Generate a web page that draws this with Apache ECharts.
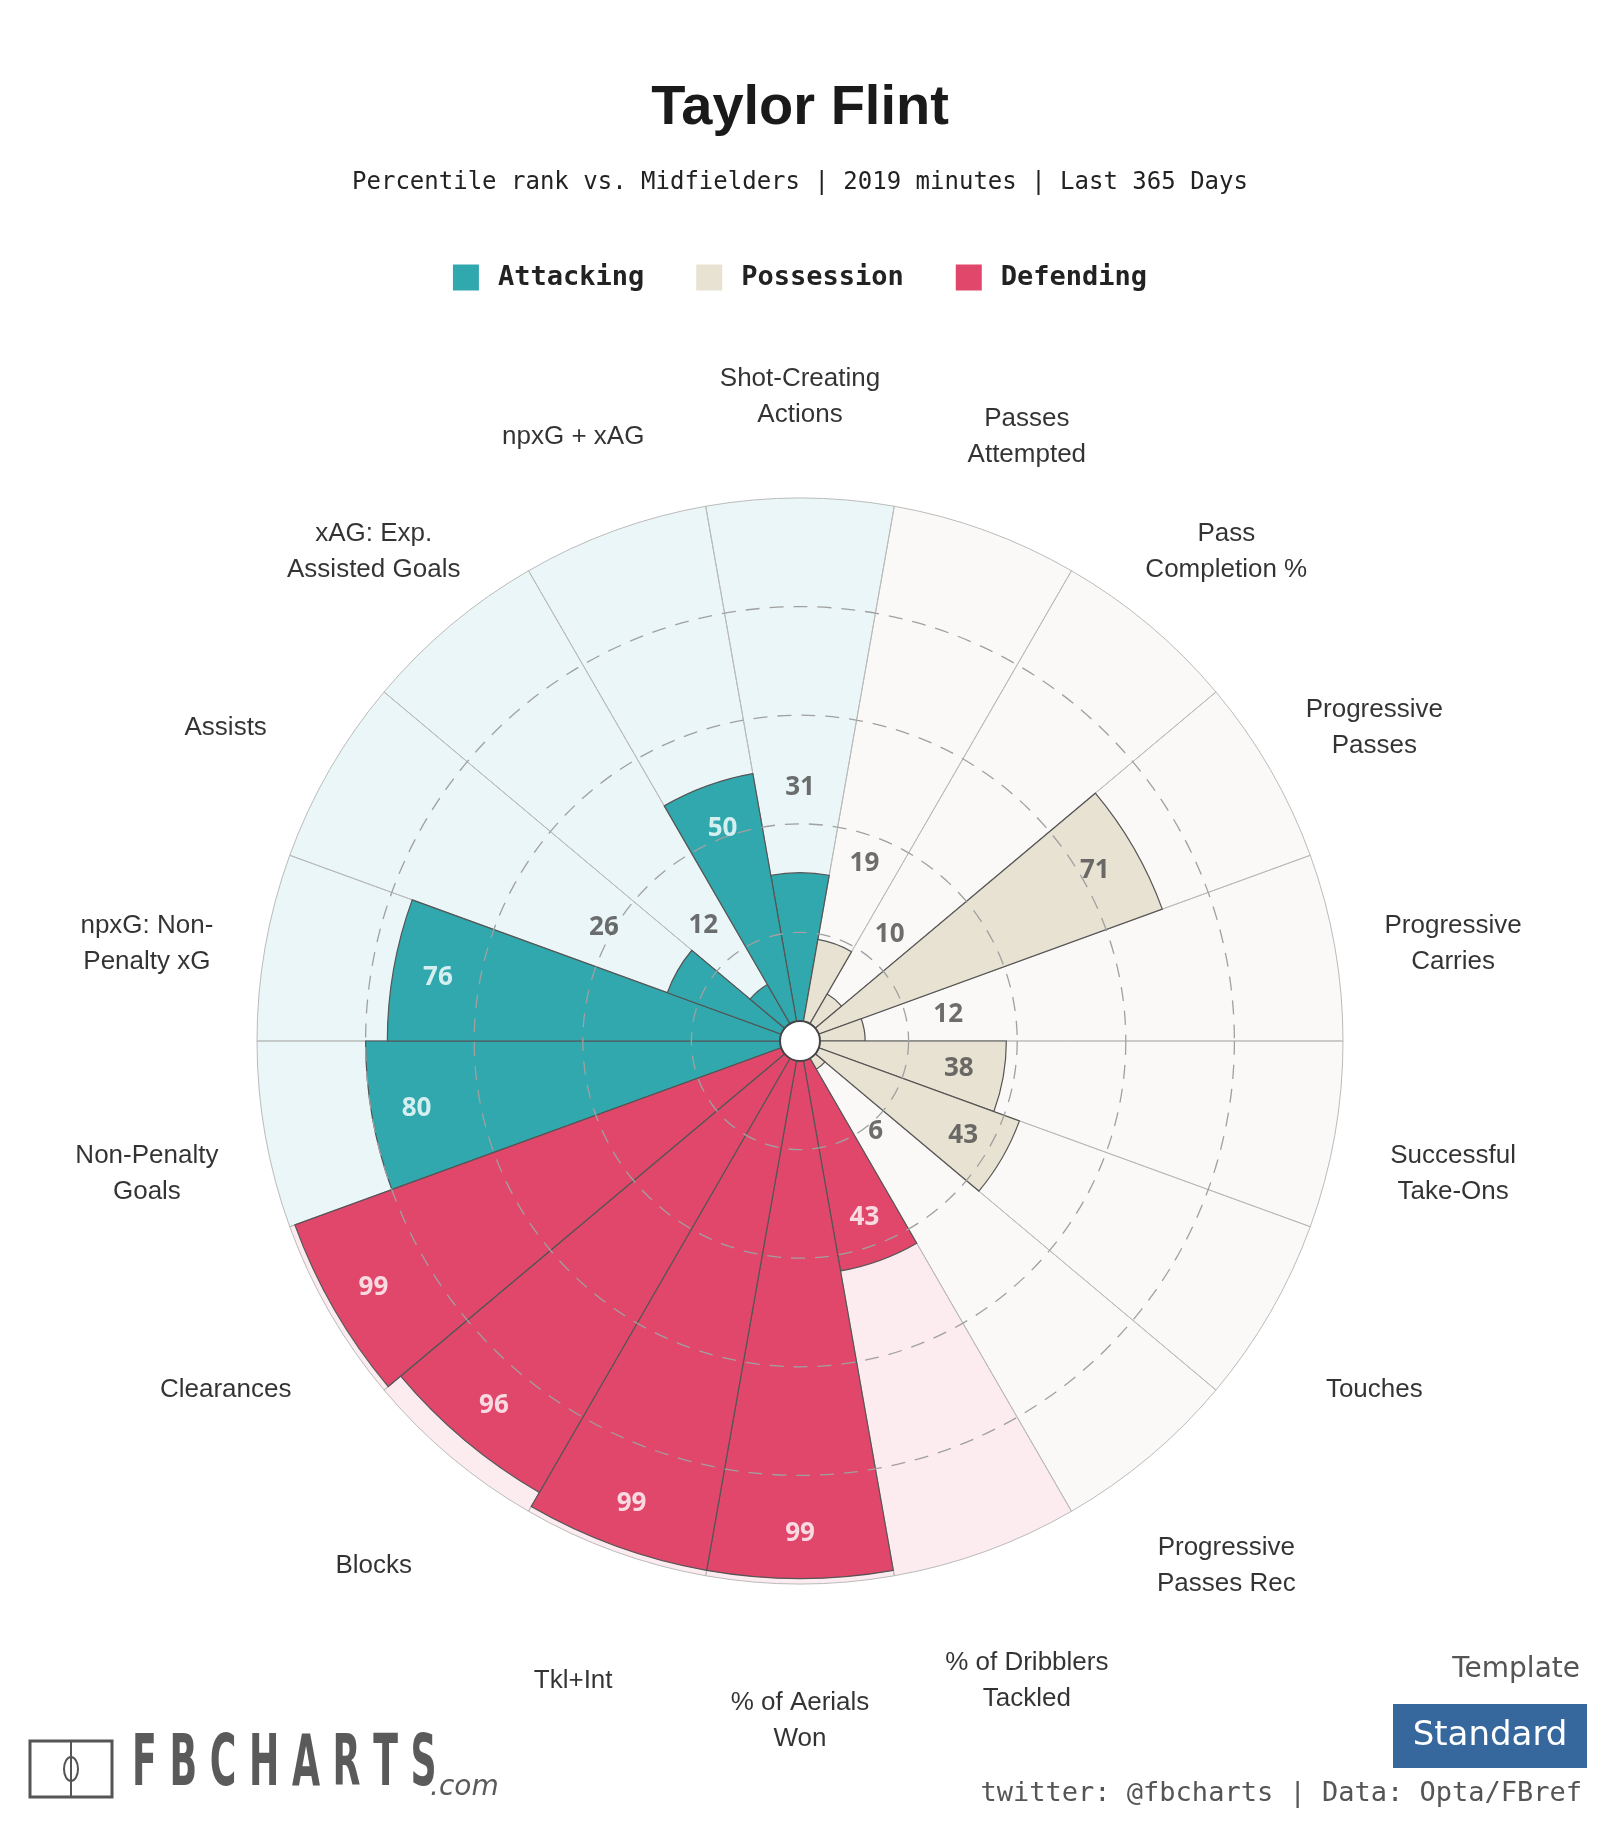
<!DOCTYPE html>
<html>
<head>
<meta charset="utf-8">
<script src="https://cdn.jsdelivr.net/npm/echarts@6/dist/echarts.min.js"></script>
<style>
  html, body { margin: 0; padding: 0; background: #fff; }
  #chart { width: 1600px; height: 1829px; }
</style>
</head>
<body>
<div id="chart"></div>
<script>
// clockwise from the top
var categories = [
  'Shot-Creating\nActions', 'Passes\nAttempted', 'Pass\nCompletion %', 'Progressive\nPasses',
  'Progressive\nCarries', 'Successful\nTake-Ons', 'Touches', 'Progressive\nPasses Rec',
  '% of Dribblers\nTackled', '% of Aerials\nWon', 'Tkl+Int', 'Blocks', 'Clearances',
  'Non-Penalty\nGoals', 'npxG: Non-\nPenalty xG', 'Assists', 'xAG: Exp.\nAssisted Goals', 'npxG + xAG'
];
var values = [31, 19, 10, 71, 12, 38, 43, 6, 43, 99, 99, 96, 99, 80, 76, 26, 12, 50];
var groups = ['A', 'P', 'P', 'P', 'P', 'P', 'P', 'P', 'D', 'D', 'D', 'D', 'D', 'A', 'A', 'A', 'A', 'A'];
var groupNames = { A: 'Attacking', P: 'Possession', D: 'Defending' };
var groupColors = { A: '#30a8ae', P: '#e8e2d2', D: '#e1476b' };
var groupBg = { A: 'rgba(48,168,174,0.10)', P: 'rgba(225,218,200,0.15)', D: 'rgba(225,71,107,0.11)' };

var myChart = echarts.init(document.getElementById('chart'));

var bgSeries = {
    type: 'bar', coordinateSystem: 'polar', stack: 'bg', barGap: '-100%', barCategoryGap: 0,
    silent: true, z: 1,
    data: values.map(function(v, i) {
        return { value: 100, itemStyle: { color: groupBg[groups[i]], borderColor: '#bbbbbb', borderWidth: 1 } };
    })
};

var groupSeries = ['A', 'P', 'D'].map(function(g) {
    return {
        name: groupNames[g], type: 'bar', coordinateSystem: 'polar', stack: 'main', barCategoryGap: 0, z: 3,
        itemStyle: { color: groupColors[g], borderColor: '#555555', borderWidth: 1.2 },
        data: values.map(function(v, i) { return groups[i] === g ? v : '-'; })
    };
});

// value labels: inside the bar end for big values, outside for small ones
var labelSeries = {
    type: 'scatter', coordinateSystem: 'polar', symbolSize: 0, z: 5, silent: true,
    data: values.map(function(v, i) {
        var inside = v >= 35;
        var white = inside && groups[i] !== 'P';
        return {
            value: [inside ? v - 8.3 : v + 15.7, i],
            label: {
                show: true, position: 'inside', formatter: String(v),
                color: white ? '#ffffff' : '#4a4a4a',
                fontFamily: 'Open Sans', fontWeight: 'bold', fontSize: 26
            }
        };
    })
};

// category names, centred just outside the ring
var nameSeries = {
    type: 'scatter', coordinateSystem: 'polar', symbolSize: 0, z: 5, silent: true, clip: false,
    data: categories.map(function(c, i) {
        var ang = i * 20 * Math.PI / 180;
        return {
            value: [119, i],
            label: {
                show: true, position: 'inside', formatter: c, align: 'center', verticalAlign: 'middle',
                offset: [17 * Math.sin(ang), 18 - 16 * Math.cos(ang)],
                fontFamily: 'Liberation Sans', fontSize: 26, color: '#000000', lineHeight: 36
            }
        };
    })
};

var option = {
    backgroundColor: '#ffffff',
    animation: false,
    title: {
        text: 'Taylor Flint',
        subtext: 'Percentile rank vs. Midfielders | 2019 minutes | Last 365 Days',
        left: 'center', top: 76, itemGap: 34,
        textStyle: { fontFamily: 'Liberation Sans', fontSize: 56, fontWeight: 'bold', color: '#1a1a1a' },
        subtextStyle: { fontFamily: 'DejaVu Sans Mono', fontSize: 24, color: '#222222' }
    },
    legend: {
        data: ['Attacking', 'Possession', 'Defending'],
        top: 259, left: 'center', itemWidth: 26, itemHeight: 26, itemGap: 52, icon: 'rect',
        itemStyle: { borderWidth: 0 },
        textStyle: { fontFamily: 'DejaVu Sans Mono', fontWeight: 'bold', fontSize: 27, color: '#222222', padding: [0, 0, 0, 14] }
    },
    polar: { center: [800, 1041], radius: [0, 543] },
    angleAxis: {
        type: 'category', data: categories, startAngle: 100, clockwise: true,
        axisLine: { show: false }, axisTick: { show: false }, splitLine: { show: false },
        axisLabel: { show: false }
    },
    radiusAxis: {
        min: 0, max: 100, interval: 20,
        axisLine: { show: false }, axisTick: { show: false }, axisLabel: { show: false },
        splitLine: { show: true, lineStyle: { type: [14, 10], width: 1.3,
            color: ['#a0a0a0', '#a0a0a0', '#a0a0a0', '#a0a0a0', '#a0a0a0', 'rgba(0,0,0,0)'] } },
        z: 4
    },
    series: [bgSeries].concat(groupSeries).concat([labelSeries, nameSeries]),
    graphic: [
        { type: 'circle', z: 100, shape: { cx: 800, cy: 1041, r: 20 }, style: { fill: '#ffffff', stroke: '#444', lineWidth: 2 } },
        // footer logo
        { type: 'rect', z: 100, shape: { x: 30, y: 1741, width: 82, height: 56 }, style: { fill: 'none', stroke: '#555', lineWidth: 3 } },
        { type: 'line', z: 100, shape: { x1: 71, y1: 1741, x2: 71, y2: 1797 }, style: { stroke: '#555', lineWidth: 2 } },
        { type: 'ellipse', z: 100, shape: { cx: 71, cy: 1769, rx: 7, ry: 12 }, style: { fill: 'none', stroke: '#555', lineWidth: 2 } },
        { type: 'text', z: 100, x: 132, y: 1730, style: { text: 'F B C H A R T S', font: 'bold 72px "DejaVu Sans Condensed"', fill: '#5a5a5a' }, scaleX: 0.56 },
        { type: 'text', z: 100, x: 430, y: 1774, style: { text: '.com', font: 'italic 28px "DejaVu Sans"', fill: '#5a5a5a' } },
        { type: 'text', z: 100, x: 1580, y: 1656, style: { text: 'Template', font: '28px "DejaVu Sans"', fill: '#555', align: 'right' } },
        { type: 'rect', z: 100, shape: { x: 1393, y: 1704, width: 194, height: 64 }, style: { fill: '#36689e' } },
        { type: 'text', z: 101, x: 1490, y: 1736, style: { text: 'Standard', font: '34px "DejaVu Sans"', fill: '#ffffff', align: 'center', verticalAlign: 'middle' } },
        { type: 'text', z: 100, x: 1582, y: 1780, style: { text: 'twitter: @fbcharts | Data: Opta/FBref', font: '27px "DejaVu Sans Mono"', fill: '#555', align: 'right' } }
    ]
};

myChart.setOption(option);
</script>
</body>
</html>
